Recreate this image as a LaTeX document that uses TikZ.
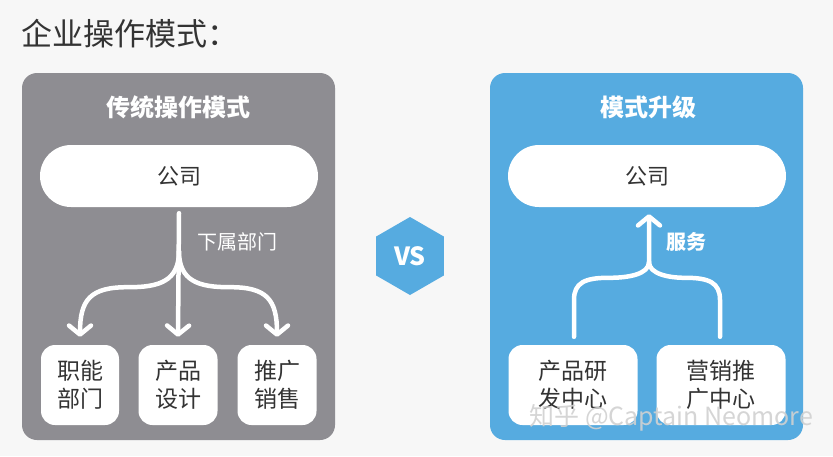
\documentclass[tikz,border=0pt]{standalone}
\usepackage{fontspec}
\setmainfont{Noto Sans CJK SC}
\usetikzlibrary{shapes.geometric, arrows.meta, calc, positioning}

\definecolor{bggray}{HTML}{F7F7F7}
\definecolor{panelgray}{HTML}{8E8D92}
\definecolor{panelblue}{HTML}{56ABE0}
\definecolor{textdark}{HTML}{333333}

\tikzset{
  panel/.style={rounded corners=15pt},
  pill/.style={fill=white, rounded corners=31pt, minimum width=278pt, minimum height=62pt,
    text=textdark, font=\fontsize{22}{26}\selectfont},
  unitbox/.style={fill=white, rounded corners=14pt, minimum height=80pt, inner sep=0pt,
    align=center, text=textdark, font=\fontsize{23}{28}\selectfont},
  flow/.style={white, line width=4.5pt, line cap=round},
  tipdown/.style={-{Straight Barb[length=9pt, width=22pt, round]}}
}

\begin{document}
\begin{tikzpicture}[x=1pt, y=-1pt]
        % Background
        \fill[bggray] (0,0) rectangle (833,456);
        \useasboundingbox (0,0) rectangle (833,456);
        \node[anchor=west, text=textdark, font=\fontsize{31}{34}\selectfont] (title) at (18,34) {企业操作模式：};

        % Left panel: traditional mode
        \fill[panelgray, panel] (22,73) rectangle (335,440);
        \node[text=white, font=\fontsize{24}{28}\selectfont\bfseries] (headL) at (178,107) {传统操作模式};
        \node[pill] (firmL) at (179,176) {公司};
        \node[unitbox, minimum width=78pt] (unitA) at (80,385) {职能\\部门};
        \node[unitbox, minimum width=79pt] (unitB) at (178,385) {产品\\设计};
        \node[unitbox, minimum width=79pt] (unitC) at (277,385) {推广\\销售};

        \coordinate (stemL) at ($(firmL.south)+(0,6)$);
        \coordinate (forkL) at ($(firmL.south)+(0,44)$);
        \draw[flow, tipdown] (stemL) -- ($(unitB.north)+(0,-8)$);
        \draw[flow, tipdown] (forkL) .. controls ($(forkL)+(0,30)$) and ($(forkL)+(-20,36)$) .. ($(forkL)+(-50,36)$)
            .. controls ($(unitA.north)+(10,-58)$) and ($(unitA.north)+(0,-45)$) .. ($(unitA.north)+(0,-8)$);
        \draw[flow, tipdown] (forkL) .. controls ($(forkL)+(0,30)$) and ($(forkL)+(20,36)$) .. ($(forkL)+(50,36)$)
            .. controls ($(unitC.north)+(-10,-58)$) and ($(unitC.north)+(0,-45)$) .. ($(unitC.north)+(0,-8)$);
        \node[anchor=west, text=white, font=\fontsize{20}{24}\selectfont] (subL) at (194,242) {下属部门};

        % VS badge
        \node[regular polygon, regular polygon sides=6, shape border rotate=30, fill=panelblue,
              minimum size=78pt, inner sep=0pt, text=white, font=\fontsize{25}{28}\selectfont\bfseries] (vs) at (410,256) {VS};

        % Right panel: upgraded mode
        \fill[panelblue, panel] (490,73) rectangle (803,440);
        \node[text=white, font=\fontsize{24}{28}\selectfont\bfseries] (headR) at (648,107) {模式升级};
        \node[pill] (firmR) at (647,176) {公司};
        \node[unitbox, minimum width=129pt] (unitD) at (573,385) {产品研\\发中心};
        \node[unitbox, minimum width=129pt] (unitE) at (721,385) {营销推\\广中心};

        \coordinate (forkR) at (649,262);
        \draw[flow, tipdown] ($(unitD.north)+(1,-8)$) -- ($(unitD.north)+(1,-45)$)
            .. controls ($(unitD.north)+(1,-62)$) and ($(unitD.north)+(12,-67)$) .. ($(unitD.north)+(35,-67)$)
            .. controls ($(forkR)+(-20,16)$) and ($(forkR)+(0,12)$) .. (forkR) -- ($(firmR.south)+(2,7)$);
        \draw[flow] ($(unitE.north)+(-1,-8)$) -- ($(unitE.north)+(-1,-45)$)
            .. controls ($(unitE.north)+(-1,-62)$) and ($(unitE.north)+(-12,-67)$) .. ($(unitE.north)+(-35,-67)$)
            .. controls ($(forkR)+(20,16)$) and ($(forkR)+(0,12)$) .. (forkR);
        \node[anchor=west, text=white, font=\fontsize{20}{24}\selectfont\bfseries] (subR) at (663,242) {服务};

        % Watermark
        \node[anchor=west, text=white!82!black, opacity=0.9, font=\fontsize{25}{28}\selectfont] (mark) at (526,418) {知乎 @Captain Neomore};

    \end{tikzpicture}
\end{document}
